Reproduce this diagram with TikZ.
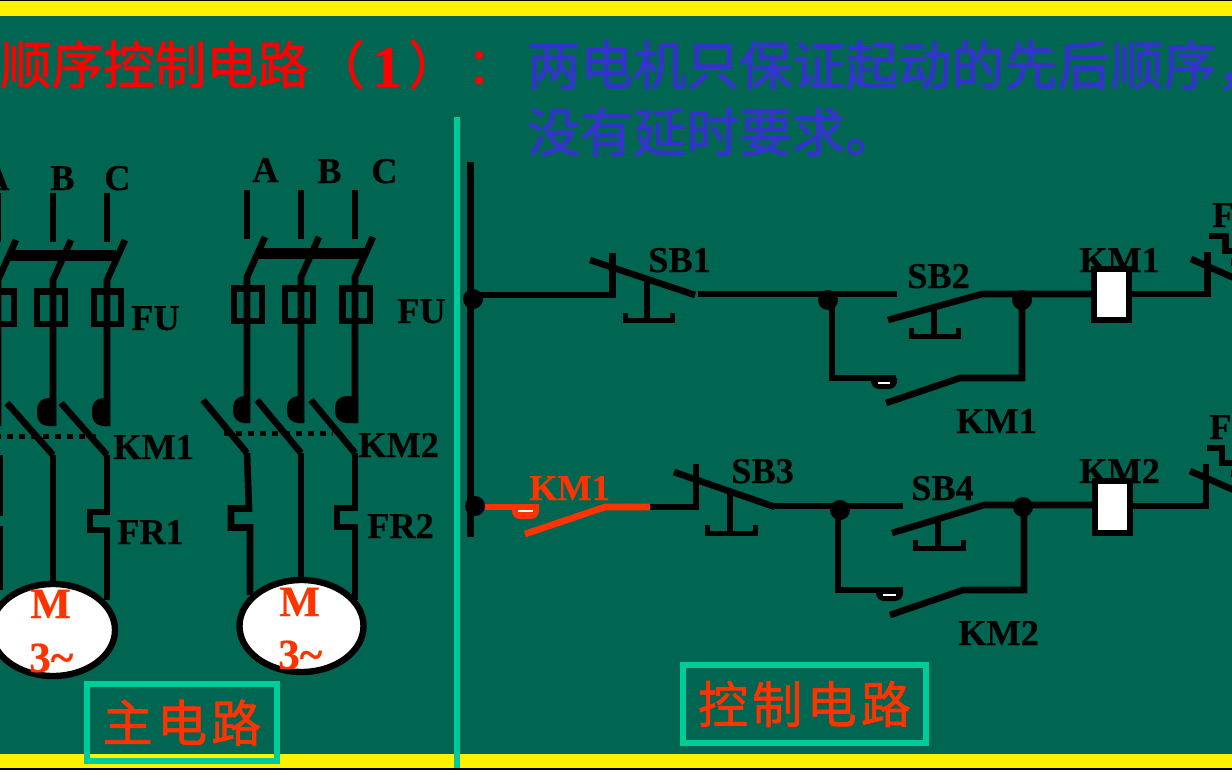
\documentclass[tikz,border=0pt]{standalone}
\usepackage{fontspec}
\setmainfont{Liberation Serif}[BoldFeatures={FakeBold=0.5}]
\newfontfamily\cjk{Noto Sans CJK SC}[FakeBold=1.3]
\usetikzlibrary{shapes.geometric}
\definecolor{boardgreen}{RGB}{0,102,82}
\definecolor{framegreen}{RGB}{0,204,153}
\definecolor{labelred}{RGB}{255,51,0}
\definecolor{notblue}{RGB}{51,51,204}
\tikzset{
  wire/.style={line width=.165cm},
  redwire/.style={wire,labelred},
  fusebox/.style={draw,line width=.15cm,minimum width=.675cm,minimum height=.8cm,inner sep=0pt},
  coil/.style={draw,fill=white,line width=.15cm,minimum width=.86cm,inner sep=0pt},
  joint/.style={circle,fill=black,minimum size=.5cm,inner sep=0pt},
  motor/.style={ellipse,draw,fill=white,line width=.16cm,minimum width=3.1cm,minimum height=2.3cm,inner sep=0pt},
  framed/.style={draw=framegreen,line width=.15cm,inner sep=0pt,text=labelred,font=\fontsize{35.6}{36}\selectfont\cjk},
  lab/.style={anchor=base west,inner sep=0pt,font=\fontsize{25.8}{26}\selectfont\bfseries},
  motortext/.style={anchor=base west,inner sep=0pt,text=labelred,font=\fontsize{30.6}{31}\selectfont\bfseries},
  headred/.style={anchor=base west,inner sep=0pt,text=red,font=\fontsize{36.6}{37}\selectfont\cjk},
  headblue/.style={anchor=base west,inner sep=0pt,text=notblue,font=\fontsize{37.7}{38}\selectfont\cjk}
}
\begin{document}
\begin{tikzpicture}[x=.025cm,y=-.025cm]
\path[use as bounding box,clip] (0,0) rectangle (1232,770);
% board
\fill[black] (0,0) rectangle (1232,770);
\fill[boardgreen] (0,16) rectangle (1232,754);
\fill[yellow] (0,1) rectangle (1232,16);
\fill[yellow] (0,754) rectangle (1232,768);
\coordinate (rulertop) at (457,117);
\coordinate (rulerend) at (457,768);
\draw[framegreen,line width=.14cm] (rulertop) -- (rulerend);
% headings
\node[headred] (head) at (0,84) {顺序控制电路};
\node[headred] (headl) at (313,84) {（};
\node[anchor=base west,inner sep=0pt,text=red,font=\fontsize{42}{42}\selectfont\bfseries] (headone) at (372,87) {1};
\node[headred] (headr) at (408,84) {）};
\node[headred] (headc) at (466,84) {：};
\node[headblue] (noteone) at (527,85) {两电机只保证起动的先后顺序，};
\node[headblue] (notetwo) at (527,152) {没有延时要求。};
\node[framed,minimum width=4.75cm,minimum height=1.925cm] (mainbox) at (182,722.5) {主\hspace{3pt}电\hspace{3pt}路};
\node[framed,minimum width=6.075cm,minimum height=1.95cm] (ctrlbox) at (804.5,704) {控\hspace{3pt}制\hspace{3pt}电\hspace{3pt}路};
% labels of the main circuit
\node[lab] (phA) at (-17,190) {A};
\node[lab] (phB) at (50,190) {B};
\node[lab] (phC) at (104,190) {C};
\node[lab] (phD) at (252,182) {A};
\node[lab] (phE) at (317,183) {B};
\node[lab] (phF) at (371,183) {C};
\node[lab] (fuA) at (131,330) {FU};
\node[lab] (fuB) at (397,323) {FU};
\node[lab] (kmA) at (113,459) {KM1};
\node[lab] (kmB) at (358,457) {KM2};
\node[lab] (frA) at (117,544) {FR1};
\node[lab] (frB) at (367,538) {FR2};
% labels of the control circuit
\node[lab] (sbA) at (648,272) {SB1};
\node[lab] (sbB) at (907,288) {SB2};
\node[lab] (coilAt) at (1079,272) {KM1};
\node[lab] (holdAt) at (956,433) {KM1};
\node[lab] (ovlA) at (1212,227) {F};
\node[lab] (sbC) at (731,483) {SB3};
\node[lab] (sbD) at (911,500) {SB4};
\node[lab] (coilBt) at (1079,483) {KM2};
\node[lab] (holdBt) at (958,645) {KM2};
\node[lab] (ovlB) at (1209,439) {F};
\node[lab,text=labelred] (seqt) at (529,500) {KM1};
% left motor branch
\foreach \n/\x/\f/\w in {a/-2/0/18,b/53/51/16,c/107/107.5/15} {
  \coordinate (lin\n) at (\x,193);
  \coordinate (lsw\n) at (\x,242);
  \coordinate (lbl\n) at (\x,280);
  \coordinate (ltp\n) at ({\x+18},240);
  \coordinate (lkt\n) at (\x,426);
  \coordinate (lkb\n) at ({\x-46},403);
  \coordinate (lke\n) at (\x,455);
  \draw[wire] (lin\n) -- (lsw\n);
  \draw[wire] (ltp\n) -- (lbl\n) -- (lkt\n);
  \node[fusebox] (lfu\n) at (\f,307.5) {};
  \fill ({\x+3},398) [rounded corners=.28cm] -- ({\x-\w},398) -- ({\x-\w},426) [sharp corners] -- ({\x+3},426) -- cycle;
  \draw[wire] (lkb\n) -- (lke\n);
}
\draw[wire,line width=.275cm] (10,255.5) -- (116,255.5);
\draw[line width=.125cm,dash pattern=on .15cm off .15cm] (-5,436) -- (96,436);
\draw[wire] (0,455) -- (0,513) -- (-18,513) -- (-18,529) -- (0,529) -- (0,590);
\draw[wire] (lkeb) -- (53,590);
\draw[wire] (lkec) -- (107,512) -- (90,512) -- (90,530) -- (107,530) -- (107,600);
\node[motor] (motorA) at (53,630) {};
\node[motortext] (motorAm) at (30,618) {M};
\node[motortext] (motorAn) at (29,672) {3\char`\~};
% right motor branch
\foreach \n/\x/\f/\w in {a/247/248/14,b/301/299/14,c/355/356/20} {
  \coordinate (rin\n) at (\x,190);
  \coordinate (rsw\n) at (\x,239);
  \coordinate (rbl\n) at (\x,277);
  \coordinate (rtp\n) at ({\x+18},237);
  \coordinate (rkt\n) at (\x,423);
  \coordinate (rkb\n) at ({\x-44},400);
  \coordinate (rke\n) at (\x,453);
  \draw[wire] (rin\n) -- (rsw\n);
  \draw[wire] (rtp\n) -- (rbl\n) -- (rkt\n);
  \node[fusebox] (rfu\n) at (\f,304.5) {};
  \fill ({\x+3},396) [rounded corners=.28cm] -- ({\x-\w},396) -- ({\x-\w},423) [sharp corners] -- ({\x+3},423) -- cycle;
  \draw[wire] (rkb\n) -- (rke\n);
}
\draw[wire,line width=.275cm] (257,253) -- (367,253);
\draw[line width=.125cm,dash pattern=on .15cm off .15cm] (224,433) -- (333,433);
\draw[wire] (rkea) -- (249,508.5) -- (231,508.5) -- (231,527.5) -- (250,527.5) -- (250,595);
\draw[wire] (rkeb) -- (301,590);
\draw[wire] (rkec) -- (355,508) -- (337,508) -- (337,527) -- (355,527) -- (355,600);
\node[motor] (motorB) at (301.5,626) {};
\node[motortext] (motorBm) at (279,616) {M};
\node[motortext] (motorBn) at (278,669) {3\char`\~};
% bus
\coordinate (bustop) at (470.5,162);
\coordinate (busend) at (470.5,537);
\draw[wire] (bustop) -- (busend);
% first rung
\node[joint] (busA) at (473,299) {};
\node[joint] (joinA) at (828,300) {};
\node[joint] (joinB) at (1022,300) {};
\node[coil,minimum height=1.275cm] (coilA) at (1111.5,294.5) {};
\coordinate (stopAa) at (612.5,295);
\coordinate (stopAb) at (612.5,253);
\coordinate (stopAc) at (590,260);
\coordinate (stopAd) at (695,295);
\draw[wire] (busA |- stopAa) -- (stopAa) -- (stopAb);
\draw[wire] (stopAc) -- (stopAd);
\draw[wire] (647,282) -- (647,320);
\draw[wire,line width=.125cm] (625,313) -- (625,320) -- (672,320) -- (672,313);
\coordinate (lineAa) at (698,294);
\coordinate (lineAb) at (897,294);
\draw[wire] (lineAa) -- (lineAb);
\coordinate (startAa) at (888,320);
\coordinate (startAb) at (982,294);
\draw[wire] (startAa) -- (startAb) -- (coilA.west |- startAb);
\draw[wire] (934,307) -- (934,336);
\draw[wire,line width=.125cm] (911,328) -- (911,336) -- (958,336) -- (958,328);
\coordinate (holdAa) at (832,378);
\coordinate (holdAb) at (896,378);
\coordinate (holdAc) at (886,403);
\coordinate (holdAd) at (960,378);
\coordinate (holdAe) at (1022,378);
\draw[wire] (832,294) -- (holdAa) -- (holdAb);
\draw[wire] (holdAc) -- (holdAd) -- (holdAe) -- (1022,294);
\fill (871,378) [rounded corners=.2cm] -- (871,389) -- (897,389) [sharp corners] -- (897,378) -- cycle;
\draw[white,line width=.04cm] (878,383) -- (890,383);
\coordinate (ovlAa) at (1207.5,294);
\coordinate (ovlAb) at (1207.5,252);
\draw[wire] (coilA.east |- ovlAa) -- (ovlAa) -- (ovlAb);
\draw[wire] (1191,259) -- (1250,285);
\draw[wire] (1209,236) -- (1225.5,236) -- (1225.5,251) -- (1240,251);
\draw[wire] (1234,258) -- (1234,266);
% second rung
\node[joint] (busB) at (475,506) {};
\node[joint] (joinC) at (840,510) {};
\node[joint] (joinD) at (1023,507) {};
\node[coil,minimum height=1.275cm] (coilB) at (1112.5,507) {};
\coordinate (seqa) at (485,507);
\coordinate (seqb) at (512,507);
\coordinate (seqc) at (525,534);
\coordinate (seqd) at (605,507);
\coordinate (seqe) at (650,507);
\draw[redwire] (seqa) -- (seqb);
\draw[redwire] (seqc) -- (seqd) -- (seqe);
\fill[labelred] (512,504) [rounded corners=.2cm] -- (512,519) -- (539,519) [sharp corners] -- (539,504) -- cycle;
\draw[white,line width=.04cm] (518,511) -- (533,511);
\coordinate (stopBa) at (696,507);
\coordinate (stopBb) at (696,464);
\coordinate (stopBc) at (674,472);
\coordinate (stopBd) at (775,507);
\draw[wire] (seqe) -- (stopBa) -- (stopBb);
\draw[wire] (stopBc) -- (stopBd);
\draw[wire] (730,493) -- (730,533);
\draw[wire,line width=.125cm] (707,525) -- (707,533) -- (755,533) -- (755,525);
\coordinate (lineBa) at (775,506);
\coordinate (lineBb) at (903,506);
\draw[wire] (lineBa) -- (lineBb);
\coordinate (startBa) at (892,533);
\coordinate (startBb) at (984,505);
\draw[wire] (startBa) -- (startBb) -- (coilB.west |- startBb);
\draw[wire] (938,517) -- (938,550);
\draw[wire,line width=.125cm] (915,540) -- (915,548) -- (963,548) -- (963,540);
\coordinate (holdBa) at (838,590);
\coordinate (holdBb) at (903,590);
\coordinate (holdBc) at (890,615);
\coordinate (holdBd) at (963,590);
\coordinate (holdBe) at (1024,590);
\draw[wire] (838,506) -- (holdBa) -- (holdBb);
\draw[wire] (holdBc) -- (holdBd) -- (holdBe) -- (1024,506);
\fill (876,590) [rounded corners=.2cm] -- (876,601) -- (903,601) [sharp corners] -- (903,590) -- cycle;
\draw[white,line width=.04cm] (883,595) -- (896,595);
\coordinate (ovlBa) at (1206,506);
\coordinate (ovlBb) at (1206,464);
\draw[wire] (coilB.east |- ovlBa) -- (ovlBa) -- (ovlBb);
\draw[wire] (1190,471) -- (1250,497);
\draw[wire] (1207,448) -- (1222,448) -- (1222,463) -- (1240,463);
\draw[wire] (1234,470) -- (1234,477);
\end{tikzpicture}
\end{document}
